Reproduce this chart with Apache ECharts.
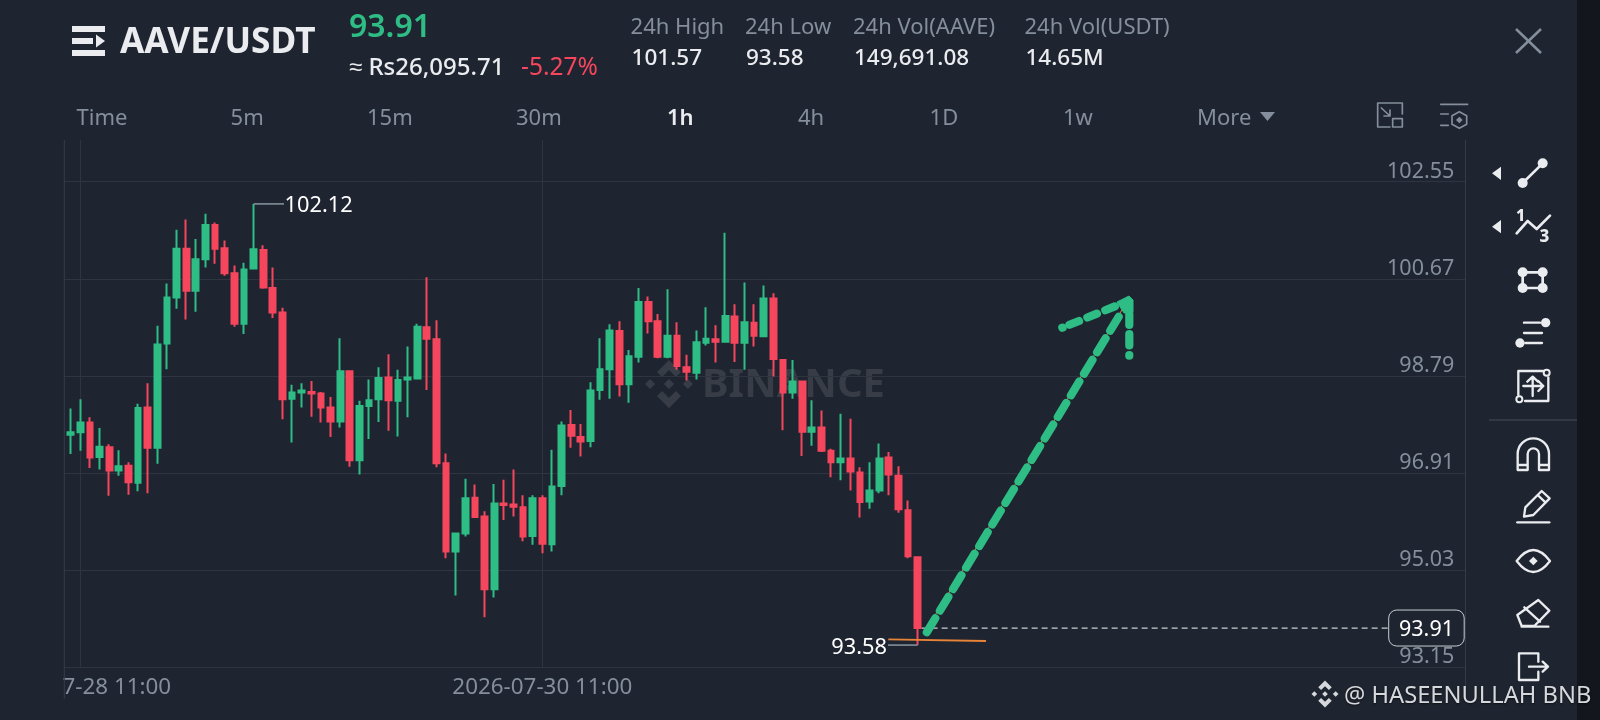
<!DOCTYPE html>
<html><head><meta charset="utf-8">
<style>html,body{margin:0;padding:0;background:#1f2530}#c{width:1600px;height:720px}</style>
<script src="https://cdn.jsdelivr.net/npm/echarts@6/dist/echarts.min.js"></script>
</head><body><div id="c"></div>
<script>
const opens=[97.65,97.70,97.89,97.22,97.41,96.96,97.05,96.72,98.18,97.40,
99.42,100.31,101.25,100.44,101.05,101.71,101.26,100.78,99.80,100.87,
101.23,100.49,100.02,98.35,98.47,98.48,98.45,98.18,97.91,98.88,
97.16,98.21,98.34,98.76,98.31,98.72,98.74,99.73,99.50,97.10,
95.39,95.74,96.43,96.07,94.66,96.32,96.30,96.25,95.69,96.42,
95.53,96.66,97.84,97.61,97.53,98.52,98.92,99.66,98.63,99.16,
100.22,99.85,99.16,99.57,98.96,98.85,99.43,99.50,99.45,99.94,
99.43,99.82,99.56,100.29,99.10,98.47,98.68,97.71,97.79,97.34,
97.12,97.19,96.92,96.36,96.57,97.21,96.86,96.19,95.28];
const closes=[97.70,97.89,97.21,97.42,96.96,97.04,96.73,98.17,97.40,99.40,
100.31,101.25,100.44,101.05,101.71,101.25,100.78,99.80,100.85,101.24,
100.50,100.02,98.34,98.47,98.51,98.45,98.18,97.91,98.88,97.16,
98.21,98.32,98.75,98.32,98.71,98.76,99.74,99.51,97.10,95.39,
95.74,96.42,96.06,94.66,96.32,96.29,96.26,95.68,96.42,95.54,
96.65,97.83,97.63,97.52,98.51,98.92,99.67,98.63,99.17,100.22,
99.85,99.16,99.57,98.98,98.87,99.44,99.51,99.45,99.95,99.43,
99.83,99.57,100.29,99.12,98.47,98.68,97.71,97.79,97.34,97.12,
97.19,96.94,96.35,96.57,97.19,96.88,96.21,95.30,93.91];
const lows=[97.28,97.34,97.01,96.98,96.47,96.86,96.49,96.56,96.52,97.09,
98.92,100.09,99.88,100.03,100.89,100.96,100.73,99.74,99.60,100.87,
100.48,99.91,97.95,97.50,98.18,98.00,97.89,97.61,97.79,97.03,
96.88,97.57,97.90,97.73,97.62,97.99,98.74,98.52,97.02,95.26,
94.54,95.68,96.04,94.12,94.50,96.00,96.07,95.59,95.52,95.36,
95.39,96.48,97.40,97.23,97.41,98.33,98.35,98.39,98.27,99.05,
99.61,99.13,99.13,98.91,98.70,98.72,99.38,99.05,99.45,99.06,
98.91,99.36,99.56,98.78,97.74,98.35,97.24,97.44,97.32,96.83,
96.77,96.57,96.05,96.22,96.52,96.48,96.14,95.26,93.58];
const highs=[98.16,98.34,97.99,97.78,97.47,97.35,97.12,98.25,98.65,99.76,
100.58,101.62,101.82,101.44,101.93,101.76,101.41,100.93,100.98,102.12,
101.32,100.89,100.11,98.62,98.65,98.69,98.48,98.38,99.52,98.88,
98.31,98.72,98.96,99.21,98.91,99.36,99.80,100.70,99.87,97.29,
95.76,96.80,96.69,96.17,96.70,96.78,96.98,96.48,96.48,96.48,
97.36,97.91,98.13,97.86,98.67,99.52,99.79,99.85,99.29,100.49,
100.33,99.99,100.47,99.83,99.20,99.67,100.12,99.77,101.56,100.18,
100.60,100.18,100.54,100.39,99.10,99.10,98.68,98.32,98.12,97.38,
98.06,97.96,97.02,97.12,97.48,97.32,97.04,96.38,95.28];
const yTicks=[93.15,95.03,96.91,98.79,100.67,102.55];
const xTickLabels=['7-28 11:00','2026-07-30 11:00'];
const xTickIndex=[1,49];
const highMark={index:19,value:102.12};
const lowMark={index:88,value:93.58};
const lastPrice=93.91;
const tabs=['Time','5m','15m','30m','1h','4h','1D','1w','More'];
const statNames=['24h High','24h Low','24h Vol(AAVE)','24h Vol(USDT)'];
const statValues=['101.57','93.58','149,691.08','14.65M'];

const UP='#2ebd85', DOWN='#f6465d', GRID='#2e3540', AXIS='#848e9c', ICON='#eaecef', FONT='"Noto Sans",sans-serif';
const candles=opens.map((o,i)=>[i,o,closes[i],lows[i],highs[i]]);

const chart=echarts.init(document.getElementById('c'),null,{renderer:'canvas',width:1600,height:720});
const Z4=[1340,90], Z5=[1340,400];
let shapeN=0;
const reg=d=>{const name='iconShape'+(shapeN++);echarts.graphic.registerShape(name,echarts.graphic.extendPath(d,{}));return name;};
const st=(d,o,w=8,c=ICON,z=10)=>({type:reg(d),x:o[0],y:o[1],scaleX:1/3,scaleY:1/3,z,style:{stroke:c,lineWidth:w,fill:null,lineCap:'round',lineJoin:'round'}});
const fl=(d,o,c=ICON,z=10)=>({type:reg(d),x:o[0],y:o[1],scaleX:1/3,scaleY:1/3,z,style:{fill:c,stroke:null}});
const dot=(x,y,r,o,hollow)=>({type:'circle',z:10,shape:{cx:o[0]+x/3,cy:o[1]+y/3,r:r/3},style:hollow?{fill:'#1f2530',stroke:ICON,lineWidth:2}:{fill:ICON}});
const txt=(text,x,y,size,fill,weight=400,align='left',extra={})=>({type:'text',z:10,x,y,style:Object.assign({text,fontSize:size,fontFamily:FONT,fontWeight:weight,fill,textAlign:align,textVerticalAlign:'middle'},extra)});
const seg=(x1,y1,x2,y2,c,w=1,extra={},z=10)=>({type:'line',z,shape:{x1,y1,x2,y2},style:Object.assign({stroke:c,lineWidth:w},extra)});
// hand-drawn stroke: a run of separate round-capped pieces along one straight line
const strokes=(x1,y1,x2,y2,step)=>{const L=Math.hypot(x2-x1,y2-y1),n=Math.max(1,Math.round(L/step)),dx=(x2-x1)/n,dy=(y2-y1)/n,out=[];
 const cut=4.5/(L/n);
 for(let i=0;i<n;i++){out.push(seg(x1+dx*(i+cut),y1+dy*(i+cut),x1+dx*(i+1-cut),y1+dy*(i+1-cut),UP,8.2,{lineCap:'round'},12));}
 return out;};
const LOGO='M0 -100 L50 -50 L29 -29 L0 -58 L-29 -29 L-50 -50Z M0 100 L50 50 L29 29 L0 58 L-29 29 L-50 50Z M-100 0 L-79 -21 L-58 0 L-79 21Z M100 0 L79 -21 L58 0 L79 21Z M0 -21 L21 0 L0 21 L-21 0Z';
const logoType=reg(LOGO);
const logo=(cx,cy,k,c,z)=>({type:logoType,x:cx,y:cy,scaleX:k,scaleY:k,z,style:{fill:c,stroke:null}});

const tabX=[76.5,230.6,367,516,667,798,929.6,1063,1197];
const statX=[630.6,745,853,1024.5];

const base=[
 {type:'rect',z:-5,shape:{x:1577,y:0,width:23,height:720},style:{fill:'#13161c'}},
 seg(64.3,140,64.3,699,'#353c47',1),
 seg(1465.5,140,1465.5,699,'#353c47',1),
 logo(669,384,0.24,'#373c46',-1),
 Object.assign(txt('BINANCE',702,386,40,'#373c46',700),{z:-1}),
 {type:'rect',z:10,shape:{x:72,y:26,width:33,height:6},style:{fill:ICON}},
 {type:'rect',z:10,shape:{x:72,y:38,width:21,height:6},style:{fill:ICON}},
 {type:'polygon',z:10,shape:{points:[[96,34.5],[105,41],[96,47.5]]},style:{fill:ICON}},
 {type:'rect',z:10,shape:{x:72,y:50,width:33,height:6},style:{fill:ICON}},
 txt('AAVE/USDT',120,43,35.2,ICON,700),
 txt('93.91',349,27.5,32,UP,600),
 txt('≈ Rs26,095.71',349,68,24,ICON,500),
 txt('-5.27%',521,68,24.5,DOWN,400),
 seg(1516,29,1541,53,AXIS,2.5), seg(1541,29,1516,53,AXIS,2.5),
 ...statNames.map((s,i)=>txt(s,statX[i],27.5,22,AXIS)),
 ...statValues.map((s,i)=>txt(s,statX[i]+1,58.5,22.5,ICON,500)),
 ...tabs.map((s,i)=>txt(s,tabX[i],118.5,22,i===4?ICON:AXIS,i===4?600:400)),
 {type:'polygon',z:10,shape:{points:[[1260,112],[1275,112],[1267.5,121]]},style:{fill:AXIS}},
 st('M150 111 H113 V39 H187 V72 M158 86 H187 V111 H158 Z M124 54 L150 78 M150 60 V78 H132',Z4,5,AXIS),
 st('M302 43 H383 M302 72 H325 M302 106 H325 M358 65 L380 77 V103 L358 115 L336 103 V77 Z',Z4,5,AXIS),
 fl('M358 80 L368 90 L358 100 L348 90Z',Z4,AXIS),
 fl('M483 230 L456 250 L483 270Z',Z4), fl('M483 390 L456 410 L483 430Z',Z4),
 st('M548 279 L608 220',Z4), dot(548,279,15,Z4), dot(608,220,15,Z4),
 st('M530 430 L563 393 L590 417 L630 377',Z4),
 txt('1',1520.5,216,16,ICON,800,'center'), txt('3',1544.5,237,17,ICON,800,'center'),
 st('M548 547 H608 V594 H548Z',Z4), dot(548,547,15,Z4), dot(608,547,15,Z4), dot(548,594,15,Z4), dot(608,594,15,Z4),
 st('M552 698 H600 M552 729 H606 M556 759 H606',Z4,7), dot(617,698,14,Z4), dot(540,759,14,Z4),
 st('M610 843 H535 V915 M555 933 H625 V862 M578 862 V918 M550 888 H608 M562 875 L578 860 L594 875 M595 873 L610 888 L595 903',Z4,7),
 dot(620,848,9,Z4,true), dot(538,928,9,Z4,true),
 seg(1489,420,1577,420,'#3a414c',1.5),
 st('M533 210 V162 A47 47 0 0 1 627 162 V210 H597 V162 A17 17 0 0 0 563 162 V210 Z M533 195 H563 M597 195 H627',Z5,7),
 st('M532 367 H628',Z5,7), st('M552 350 L556 322 L605 273 L629 295 L580 345 Z M593 285 L617 308',Z5,7),
 st('M530 483 Q580 417 630 483 Q580 549 530 483Z',Z5,7), fl('M580 470 L593 483 L580 496 L567 483Z',Z5),
 st('M595 600 L628 632 L583 678 H545 L532 645 Z M553 622 L600 665 M545 680 H625',Z5,7),
 st('M595 785 V760 H537 V840 H595 V815 M567 800 H622 M608 785 L624 800 L608 815',Z5,7),
 logo(1325,694,0.135,'#d5d8dc',12),
 txt('@ HASEENULLAH BNB',1344,696,23.7,'#d5d8dc',400,'left',{textShadowColor:'rgba(0,0,0,.6)',textShadowBlur:2,textShadowOffsetY:1}),
 seg(888.3,639.3,986,641,'#e8833a',1.8,{},8),
 seg(926,630,1128,300,'#e8833a',1,{},8),
];

chart.setOption({
 animation:false,
 backgroundColor:'#1f2530',
 grid:{left:64.3,right:134.7,top:140,bottom:52.7,containLabel:false},
 xAxis:{type:'value',min:-0.665,max:144.9,
  axisLine:{show:false},axisTick:{show:false,customValues:xTickIndex},
  splitLine:{show:true,lineStyle:{color:GRID,width:1}},
  axisLabel:{customValues:xTickIndex,hideOverlap:false,margin:9.5,color:AXIS,fontSize:22.4,fontFamily:FONT,showMinLabel:true,showMaxLabel:true,
   formatter:v=>{const i=xTickIndex.indexOf(v);return i===0?'{a|'+xTickLabels[0]+'}':(xTickLabels[i]||'');},
   rich:{a:{color:AXIS,fontSize:22.4,fontFamily:FONT,padding:[0,0,0,73]}}}},
 yAxis:{type:'value',position:'right',min:93.15,max:103.357,
  axisLine:{show:false},axisTick:{show:false,customValues:yTicks},
  splitLine:{show:true,lineStyle:{color:GRID,width:1}},
  axisLabel:{inside:true,customValues:yTicks,margin:11,color:AXIS,fontSize:21.5,fontFamily:FONT,verticalAlign:'bottom',lineHeight:20,formatter:v=>v.toFixed(2)}},
 series:[{type:'candlestick',z:5,barWidth:6.2,data:candles,encode:{x:0,y:[1,2,3,4]},
  itemStyle:{color:UP,color0:DOWN,borderColor:UP,borderColor0:DOWN,borderWidth:2}}]
});

const px=(i,v)=>chart.convertToPixel({gridIndex:0},[i,v]);
const [hx,hy]=px(highMark.index,highMark.value);
const [lx,ly]=px(lowMark.index,lowMark.value);
const [cx,cy]=px(opens.length-1,lastPrice);
const over=[
 seg(hx,hy,284,hy,'#848e9c',1.6,{},8),
 txt(highMark.value.toFixed(2),284.5,hy+1.5,21.8,'#ffffff'),
 seg(lx,ly,888,ly,'#848e9c',1.6,{},8),
 txt(lowMark.value.toFixed(2),887,ly+3,21.8,'#ffffff',400,'right'),
 seg(cx+4,cy,1388.7,cy,'#c9ccd1',1.2,{lineDash:[6,4]},8),
 {type:'rect',z:11,shape:{x:1388.7,y:cy-18,width:75.5,height:36,r:8},style:{fill:'#1f2530',stroke:'#c9ccd1',lineWidth:1}},
 Object.assign(txt(lastPrice.toFixed(2),1426.5,cy+1.5,21.5,'#ffffff',400,'center'),{z:12}),
 ...strokes(924.5,636,1121,313,25),
 ...strokes(1065.3,326.5,1119,304.7,18.5),
 seg(1062.3,327.7,1062.6,327.6,UP,8.2,{lineCap:'round'},12),
 ...strokes(1129.3,309,1129.3,350,19),
 seg(1129.3,355.2,1129.3,355.7,UP,8.2,{lineCap:'round'},12),
 {type:'polygon',z:12,shape:{points:[[1117,302],[1129,296],[1133,300],[1133,312],[1124,313]]},style:{fill:UP,stroke:UP,lineWidth:1,lineJoin:'round'}},
];
chart.setOption({graphic:{elements:base.concat(over)}});
</script></body></html>
